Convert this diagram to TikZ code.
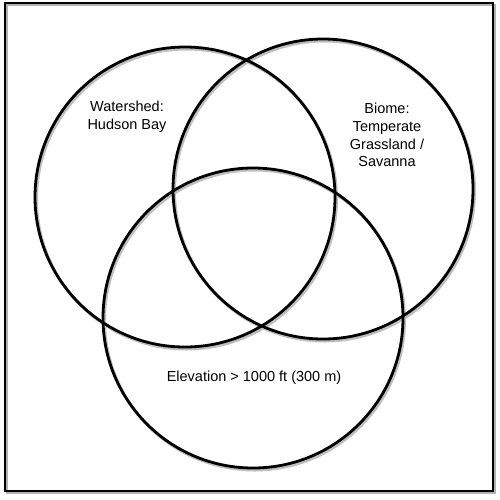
\documentclass[tikz,border=0pt]{standalone}
\usepackage{fontspec}
\setmainfont{Liberation Sans}
\begin{document}
\begin{tikzpicture}[x=1pt,y=-1pt,
  setcircle/.style={circle,draw=black,line width=2.8pt,minimum size=300pt,inner sep=0pt},
  shadowcircle/.style={circle,draw=black!25,line width=3pt,minimum size=300pt,inner sep=0pt},
  lbl/.style={align=center,font=\fontsize{14.5}{17.8}\selectfont,inner sep=0pt}]
\useasboundingbox (0,0) rectangle (500,499);
% frame
\draw[black!30,line width=2pt] (6.5,5) rectangle (494.5,493);
\node[draw=black,line width=2.2pt,minimum width=488pt,minimum height=488pt,inner sep=0pt] (frame) at (249,247) {};
% shadows
\node[shadowcircle] at (186.5,199) {};
\node[shadowcircle] at (324.5,191) {};
\node[shadowcircle] at (254.5,320) {};
% circles
\node[setcircle] (watershed) at (185,197) {};
\node[setcircle] (biome) at (323,189) {};
\node[setcircle] (elevation) at (253,318) {};
% labels
\node[lbl] (wlabel) at (127,117) {Watershed:\\Hudson Bay};
\node[lbl] (blabel) at (387,135) {Biome:\\Temperate\\Grassland /\\Savanna};
\node[lbl] (elabel) at (254,378) {Elevation > 1000 ft (300 m)};
\end{tikzpicture}
\end{document}
